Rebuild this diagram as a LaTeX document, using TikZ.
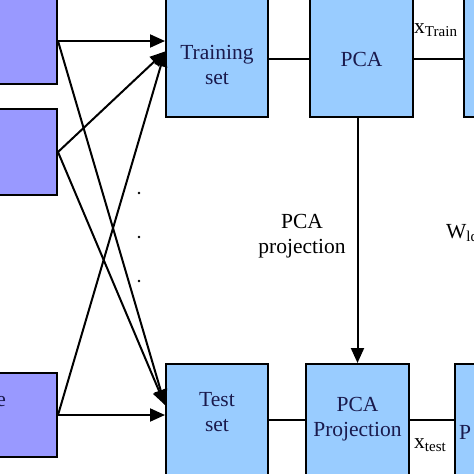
\documentclass[tikz,border=0pt]{standalone}
\usepackage{fontspec}
\setmainfont{Liberation Serif}
\usetikzlibrary{arrows.meta}
\usetikzlibrary{positioning}
\definecolor{srcfill}{HTML}{9999FF}
\definecolor{setfill}{HTML}{99CCFF}
\definecolor{boxtext}{HTML}{1A1A4D}
\tikzset{srcbox/.style = {draw, fill=srcfill, line width=2pt, inner sep=0}}
\tikzset{setbox/.style = {draw, fill=setfill, line width=2pt, inner sep=0}}
\tikzset{boxlbl/.style = {text=boxtext, align=center, inner sep=0, font=\fontsize{21.5}{25}\selectfont}}
\tikzset{freelbl/.style = {align=center, inner sep=0, font=\fontsize{21.5}{25}\selectfont}}
\tikzset{link/.style = {line width=2pt, -{Triangle[length=15pt, width=13pt]}}}
\tikzset{wire/.style = {line width=2pt}}
\tikzset{dotmark/.style = {fill, circle, inner sep=0, minimum size=2.6}}

\begin{document}
\begin{tikzpicture}[x=1pt, y=-1pt]
      \useasboundingbox (0,0) rectangle (474,474);
      \clip (0,0) rectangle (474,474);

      % sources on the left
      \node [srcbox, minimum width=107, minimum height=86] (src1) at (3.5, 41) {};
      \node [srcbox, minimum width=107, minimum height=86] (src2) at (3.5, 152) {};
      \node [srcbox, minimum width=107, minimum height=84] (src3) at (3.5, 415) {};
      \node [boxlbl, anchor=east] (src3lbl) at (6, 402) {e};

      % top row
      \node [setbox, minimum width=102, minimum height=131] (train) at (217, 51.5) {};
      \node [boxlbl] (trainlbl) at (217, 64.5) {Training\\set};
      \node [setbox, minimum width=103, minimum height=131] (pca) at (361.5, 51.5) {};
      \node [boxlbl] (pcalbl) at (361.5, 59.5) {PCA};
      \node [setbox, minimum width=96, minimum height=131] (trainout) at (512, 51.5) {};

      % bottom row
      \node [setbox, minimum width=102, minimum height=136] (test) at (217, 432) {};
      \node [boxlbl] (testlbl) at (217, 412) {Test\\set};
      \node [setbox, minimum width=103, minimum height=136] (proj) at (357.5, 432) {};
      \node [boxlbl] (projlbl) at (357.5, 419.5) {PCA\\Projection};
      \node [setbox, minimum width=105, minimum height=136] (testout) at (507.5, 432) {};
      \node [boxlbl, anchor=west] (testoutlbl) at (459, 432) {P};

      % free labels
      \node [freelbl, anchor=base west] (xtrain) at (414, 33) {x\textsubscript{Train}};
      \node [freelbl, anchor=base west] (xtest) at (414, 448) {x\textsubscript{test}};
      \node [freelbl] (projtxt) at (302, 236) {PCA\\projection};
      \node [freelbl, anchor=base west] (wlda) at (446, 238) {W\textsubscript{lda}};

      \foreach \y [count=\i] in {193, 237, 281}
        \node [dotmark] (dot\i) at (139, \y) {};

      % connections
      \draw [link] (src1.east) -- (src1.east -| train.west);
      \draw [link] (src1.east) -- ([yshift=27pt]test.west);
      \draw [link] (src2.east) -- (train.west);
      \draw [link] (src2.east) -- ([yshift=27pt]test.west);
      \draw [link] (src3.east) -- (train.west);
      \draw [link] (src3.east) -- (src3.east -| test.west);

      \draw [wire] ([yshift=-7.5pt]train.east) -- ([yshift=-7.5pt]pca.west);
      \draw [wire] ([yshift=-7.5pt]pca.east) -- ([yshift=-7.5pt]trainout.west);
      \draw [wire] ([yshift=12pt]test.east) -- ([yshift=12pt]proj.west);
      \draw [wire] ([yshift=12pt]proj.east) -- ([yshift=12pt]testout.west);
      \draw [link] (pca.south -| proj.north) -- (proj.north);
    \end{tikzpicture}
\end{document}
